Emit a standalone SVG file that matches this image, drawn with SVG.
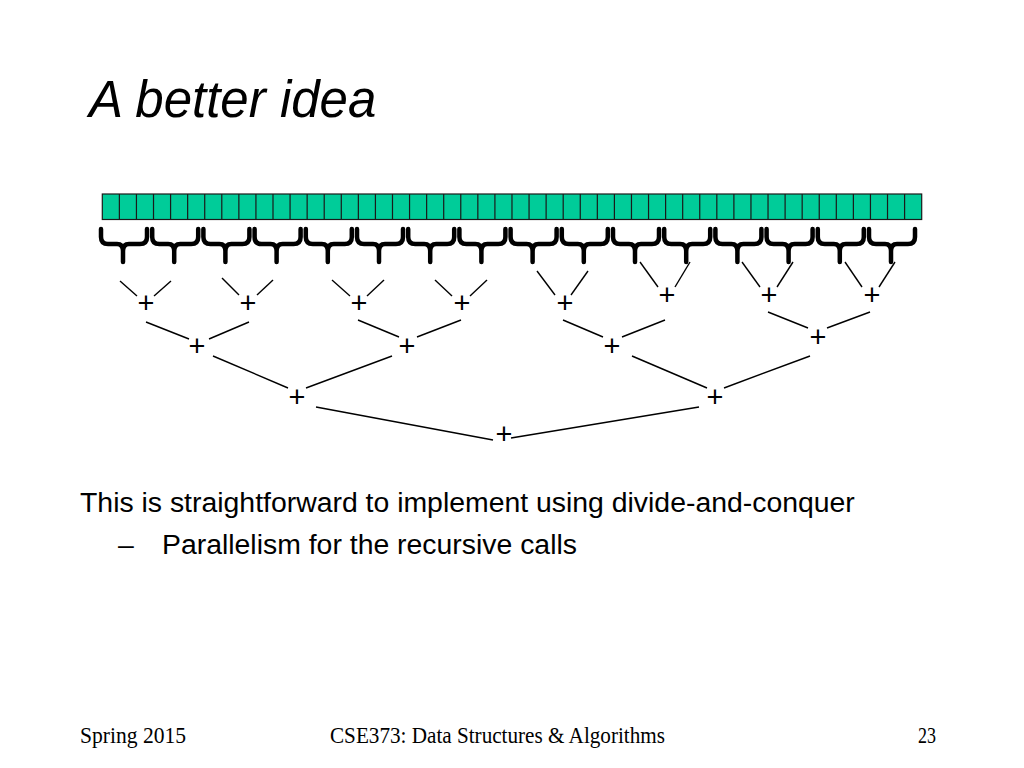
<svg xmlns="http://www.w3.org/2000/svg" xmlns:xlink="http://www.w3.org/1999/xlink" width="1024" height="768" viewBox="0 0 1024 768">
<style>
.title{font-family:"Liberation Sans",Arial,sans-serif;font-style:italic;font-size:51px;fill:#000}
.body{font-family:"Liberation Sans",Arial,sans-serif;font-size:28.4px;fill:#000}
.foot{font-family:"Liberation Serif","Times New Roman",serif;font-size:23px;fill:#000}
.plus{font-family:"Liberation Sans",Arial,sans-serif;font-size:29px;fill:#000;text-anchor:middle}
.conn line{stroke:#000;stroke-width:1.4}
.brace{fill:none;stroke:#000;stroke-width:4.5;stroke-linecap:round;stroke-linejoin:round}
</style>
<defs>
<path id="br" class="brace" d="M0,0 L0,8 Q0,15 7,15 L16,15 Q22,15 22,22 L22,33 M22,22 Q22,15 28,15 L39,15 Q46,15 46,8 L46,0"/>
</defs>
<rect width="1024" height="768" fill="#fff"/>
<text class="title" x="89" y="117">A better idea</text>

<g id="array">
<rect x="102.3" y="194" width="819.4" height="25.5" fill="#00CC99" stroke="#1a1a1a" stroke-width="1.2"/>
<path stroke="#1a1a1a" stroke-width="1.2" fill="none" d="M119.37,194V219.5M136.44,194V219.5M153.51,194V219.5M170.58,194V219.5M187.65,194V219.5M204.72,194V219.5M221.79,194V219.5M238.86,194V219.5M255.93,194V219.5M273,194V219.5M290.07,194V219.5M307.14,194V219.5M324.21,194V219.5M341.28,194V219.5M358.35,194V219.5M375.42,194V219.5M392.49,194V219.5M409.56,194V219.5M426.63,194V219.5M443.7,194V219.5M460.77,194V219.5M477.84,194V219.5M494.91,194V219.5M511.98,194V219.5M529.05,194V219.5M546.12,194V219.5M563.19,194V219.5M580.26,194V219.5M597.33,194V219.5M614.4,194V219.5M631.47,194V219.5M648.54,194V219.5M665.61,194V219.5M682.68,194V219.5M699.75,194V219.5M716.82,194V219.5M733.89,194V219.5M750.96,194V219.5M768.03,194V219.5M785.1,194V219.5M802.17,194V219.5M819.24,194V219.5M836.31,194V219.5M853.38,194V219.5M870.45,194V219.5M887.52,194V219.5M904.59,194V219.5"/>
</g>

<g id="braces">
<use xlink:href="#br" href="#br" transform="translate(101,229)"/>
<use xlink:href="#br" href="#br" transform="translate(152.2,229)"/>
<use xlink:href="#br" href="#br" transform="translate(203.4,229)"/>
<use xlink:href="#br" href="#br" transform="translate(254.6,229)"/>
<use xlink:href="#br" href="#br" transform="translate(305.8,229)"/>
<use xlink:href="#br" href="#br" transform="translate(357,229)"/>
<use xlink:href="#br" href="#br" transform="translate(408.2,229)"/>
<use xlink:href="#br" href="#br" transform="translate(459.4,229)"/>
<use xlink:href="#br" href="#br" transform="translate(510.6,229)"/>
<use xlink:href="#br" href="#br" transform="translate(561.8,229)"/>
<use xlink:href="#br" href="#br" transform="translate(613,229)"/>
<use xlink:href="#br" href="#br" transform="translate(664.2,229)"/>
<use xlink:href="#br" href="#br" transform="translate(715.4,229)"/>
<use xlink:href="#br" href="#br" transform="translate(766.6,229)"/>
<use xlink:href="#br" href="#br" transform="translate(817.8,229)"/>
<use xlink:href="#br" href="#br" transform="translate(869,229)"/>
</g>

<g id="connectors" class="conn">
<line x1="120" y1="281" x2="137" y2="296"/><line x1="171" y1="281" x2="154" y2="296"/>
<line x1="222" y1="278" x2="239" y2="295"/><line x1="273" y1="280" x2="257" y2="295"/>
<line x1="332" y1="280" x2="350" y2="296"/><line x1="384" y1="280" x2="367" y2="296"/>
<line x1="435" y1="280" x2="452" y2="296"/><line x1="487" y1="280" x2="470" y2="296"/>
<line x1="537" y1="271" x2="555" y2="295"/><line x1="588" y1="271" x2="571" y2="295"/>
<line x1="640" y1="262" x2="658" y2="287"/><line x1="690" y1="262" x2="675" y2="287"/>
<line x1="742" y1="262" x2="760" y2="287"/><line x1="793" y1="262" x2="777" y2="287"/>
<line x1="845" y1="262" x2="862" y2="287"/><line x1="895" y1="262" x2="879" y2="287"/>
<line x1="146" y1="322" x2="189" y2="339"/><line x1="249" y1="322" x2="209" y2="339"/>
<line x1="358" y1="320" x2="399" y2="337"/><line x1="461" y1="320" x2="417" y2="337"/>
<line x1="563" y1="320" x2="603" y2="337"/><line x1="665" y1="320" x2="622" y2="337"/>
<line x1="768" y1="312" x2="808" y2="328"/><line x1="870" y1="312" x2="827" y2="328"/>
<line x1="213" y1="356" x2="288" y2="388"/><line x1="392" y1="356" x2="306" y2="388"/>
<line x1="632" y1="356" x2="707" y2="388"/><line x1="810" y1="356" x2="724" y2="388"/>
<line x1="316" y1="407" x2="493" y2="440"/><line x1="699" y1="407" x2="511" y2="438"/>
</g>

<g id="p1a"><text class="plus" x="146" y="313">+</text></g>
<g id="p1b"><text class="plus" x="248" y="313">+</text></g>
<g id="p1c"><text class="plus" x="359" y="313">+</text></g>
<g id="p1d"><text class="plus" x="462" y="313">+</text></g>
<g id="p1e"><text class="plus" x="565" y="313">+</text></g>
<g id="p1f"><text class="plus" x="667" y="305">+</text></g>
<g id="p1g"><text class="plus" x="769" y="305">+</text></g>
<g id="p1h"><text class="plus" x="872" y="305">+</text></g>
<g id="p2a"><text class="plus" x="197" y="356">+</text></g>
<g id="p2b"><text class="plus" x="407" y="356">+</text></g>
<g id="p2c"><text class="plus" x="612" y="356">+</text></g>
<g id="p2d"><text class="plus" x="818" y="347">+</text></g>
<g id="p3a"><text class="plus" x="297" y="407">+</text></g>
<g id="p3b"><text class="plus" x="715" y="407">+</text></g>
<g id="p4"><text class="plus" x="504" y="444">+</text></g>

<text class="body" x="80" y="512">This is straightforward to implement using divide-and-conquer</text>
<text class="body" x="118" y="554">–</text>
<text class="body" x="162" y="554">Parallelism for the recursive calls</text>

<text class="foot" x="80" y="743" textLength="106" lengthAdjust="spacingAndGlyphs">Spring 2015</text>
<text class="foot" x="330" y="743" textLength="335" lengthAdjust="spacingAndGlyphs">CSE373: Data Structures &amp; Algorithms</text>
<text class="foot" x="918" y="743" textLength="18" lengthAdjust="spacingAndGlyphs">23</text>
</svg>
